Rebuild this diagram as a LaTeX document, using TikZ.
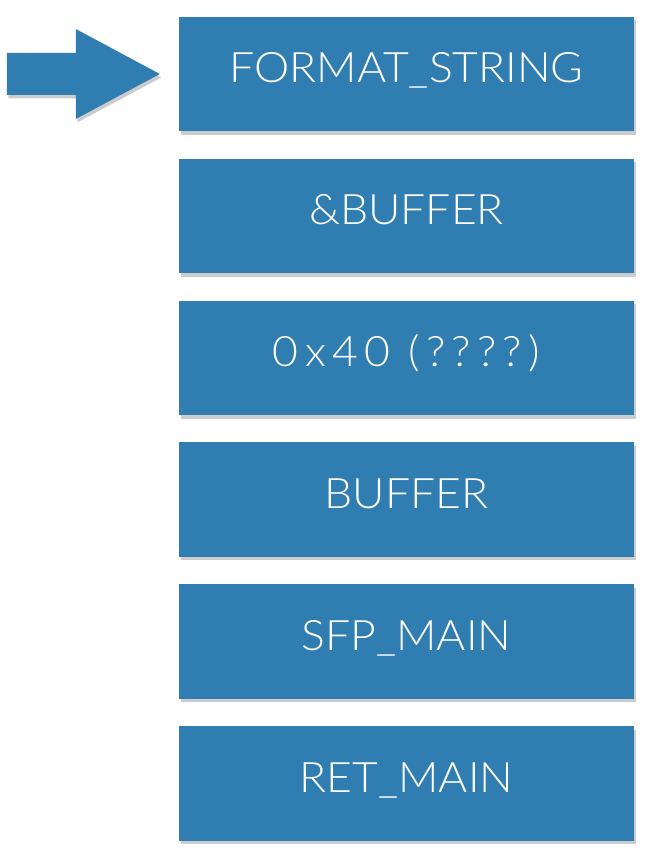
\documentclass[tikz,border=0pt]{standalone}
\usepackage{fontspec}
\setmainfont{Lato Light}[FakeStretch=1.06]
\usetikzlibrary{shadows,positioning}
\definecolor{slotblue}{RGB}{47,125,177}
\tikzstyle{slot}=[fill=slotblue, text=white, minimum width=455pt, minimum height=114.5pt, inner sep=0pt, text height=30pt, text depth=12pt, font=\fontsize{42}{42}\selectfont, drop shadow={shadow xshift=1.5pt, shadow yshift=-3.5pt, opacity=0.2, fill=black}]
\tikzstyle{pointer}=[fill=slotblue, drop shadow={shadow xshift=1.5pt, shadow yshift=-3.5pt, opacity=0.2, fill=black}]

\begin{document}
\begin{tikzpicture}[x=1pt, y=1pt]
    \useasboundingbox (0,0) rectangle (650,-864);

    % nodes
    \node[slot] (fmt) at (406.5, -74) {FORMAT\_STRING};
    \node[slot, below=27pt of fmt] (addr) {\&BUFFER};
    \node[slot, below=27pt of addr] (size) {\addfontfeatures{LetterSpace=15}0x40 (????)};
    \node[slot, below=27pt of size] (buf) {BUFFER};
    \node[slot, below=27pt of buf] (sfp) {SFP\_MAIN};
    \node[slot, below=27pt of sfp] (ret) {RET\_MAIN};

    % arrow
    \coordinate[left=19pt of fmt.west] (tip);
    \fill[pointer] (tip) -- ++(-84,45) -- ++(0,-24) -- ++(-69,0) -- ++(0,-42) -- ++(69,0) -- ++(0,-24) -- cycle;

\end{tikzpicture}
\end{document}
